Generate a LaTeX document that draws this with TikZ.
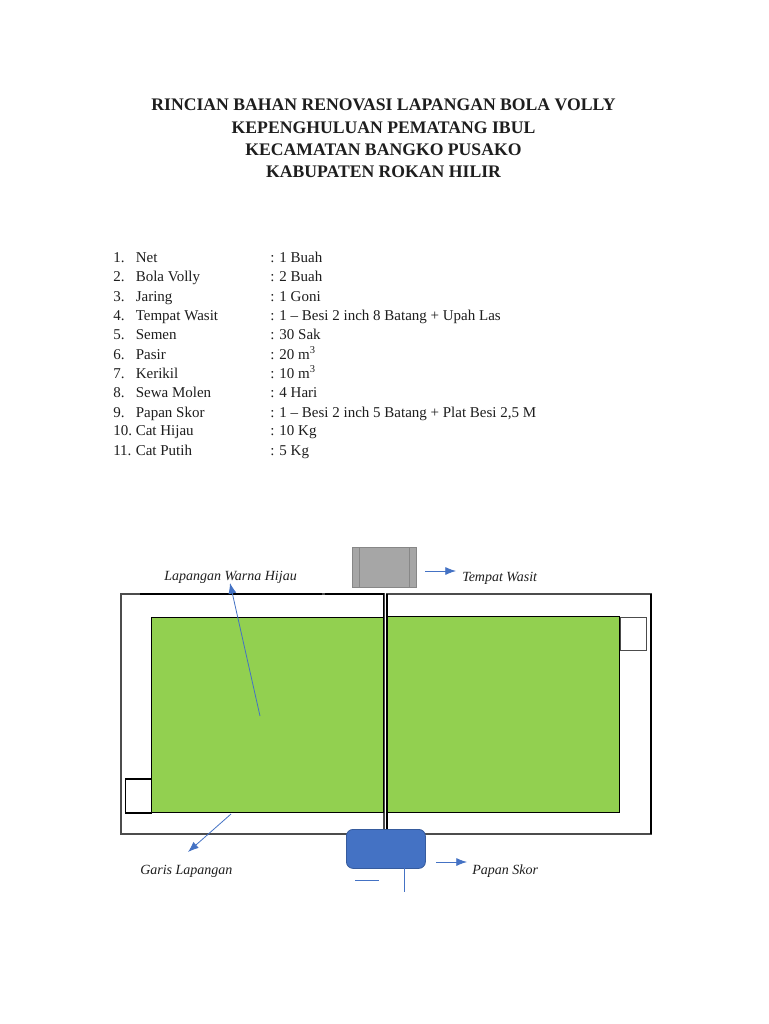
\documentclass[tikz,border=0pt]{standalone}
\usepackage{fontspec}
\setmainfont{Liberation Serif}
\definecolor{grass}{RGB}{146,208,80}
\definecolor{scoreblue}{RGB}{68,114,196}
\definecolor{chair}{RGB}{166,166,166}
\definecolor{chairedge}{RGB}{135,135,135}
\definecolor{arrowblue}{RGB}{68,114,196}
\definecolor{ink}{RGB}{30,30,30}
\usetikzlibrary{arrows.meta}
\tikzset{
  titletext/.style={font=\fontsize{13.25pt}{15pt}\selectfont\bfseries,anchor=base,inner sep=0pt,text=ink},
  bodytext/.style={font=\fontsize{11.25pt}{13pt}\selectfont,anchor=base west,inner sep=0pt,text=ink},
  labeltext/.style={font=\fontsize{10.5pt}{12pt}\selectfont\itshape,anchor=base west,inner sep=0pt,text=ink},
  courtline/.style={draw=black!70,line width=1.5pt},
  blackline/.style={draw=black,line width=1.4pt},
  fieldbox/.style={draw=black,line width=1.1pt,fill=grass,inner sep=0pt},
  pointer/.style={draw=arrowblue,line width=0.6pt,-{Latex[length=8pt,width=6pt]}},
  plainblue/.style={draw=arrowblue,line width=0.7pt}
}
\begin{document}
\begin{tikzpicture}[x=0.75pt,y=-0.75pt]
\useasboundingbox[fill=white] (0,0) rectangle (768,1024);
% title
\node[titletext] (t1) at (383.5,110) {RINCIAN BAHAN RENOVASI LAPANGAN BOLA VOLLY};
\node[titletext] (t2) at (383.5,133) {KEPENGHULUAN PEMATANG IBUL};
\node[titletext] (t3) at (383.5,155) {KECAMATAN BANGKO PUSAKO};
\node[titletext] (t4) at (383.5,177) {KABUPATEN ROKAN HILIR};
% list
\foreach \nm/\yy/\num/\item/\val in {
 a/262/1./Net/{: 1 Buah},
 b/281/2./Bola Volly/{: 2 Buah},
 c/301/3./Jaring/{: 1 Goni},
 d/320/4./Tempat Wasit/{: 1 – Besi 2 inch 8 Batang + Upah Las},
 e/339/5./Semen/{: 30 Sak},
 f/359/6./Pasir/{: 20 m\textsuperscript{3}},
 g/378/7./Kerikil/{: 10 m\textsuperscript{3}},
 h/397/8./Sewa Molen/{: 4 Hari},
 i/417/9./Papan Skor/{: 1 – Besi 2 inch 5 Batang + Plat Besi 2,5 M},
 j/435/10./Cat Hijau/{: 10 Kg},
 k/455/11./Cat Putih/{: 5 Kg}}{
  \node[bodytext] (n\nm) at (113,\yy) {\num};
  \node[bodytext] (l\nm) at (135.5,\yy) {\item};
  \node[bodytext] (v\nm) at (270,\yy) {\val};
}
% court outlines
\draw[courtline] (120.5,594) rectangle (383.5,834);
\draw[courtline] (387,593.5) rectangle (651,834);
\draw[blackline] (140,594) -- (322,594);
\draw[blackline] (325,594) -- (383.5,594) -- (383.5,617);
\draw[blackline] (387,593.5) -- (387,829);
\draw[blackline] (651,593.5) -- (651,834);
% green fields
\node[fieldbox,minimum width=232pt*0.75,minimum height=195pt*0.75,anchor=north west] (fieldL) at (151,617) {};
\node[fieldbox,minimum width=232pt*0.75,minimum height=196pt*0.75,anchor=north west] (fieldR) at (387,616) {};
% white corner boxes
\node[draw=black!70,line width=1.1pt,fill=white,minimum width=26pt*0.75,minimum height=33pt*0.75,inner sep=0pt,anchor=north west] (boxR) at (620,617) {};
\node[draw=black,line width=1.3pt,fill=white,minimum width=26pt*0.75,minimum height=34pt*0.75,inner sep=0pt,anchor=north west] (boxL) at (124.5,778) {};
% referee stand
\node[draw=chairedge,line width=0.9pt,fill=chair,minimum width=64pt*0.75,minimum height=40pt*0.75,inner sep=0pt,anchor=north west] (stand) at (352,547) {};
\draw[chairedge,line width=0.9pt] ([xshift=5.6pt]stand.north west) -- ([xshift=5.6pt]stand.south west);
\draw[chairedge,line width=0.9pt] ([xshift=-5.6pt]stand.north east) -- ([xshift=-5.6pt]stand.south east);
% score board
\node[draw=scoreblue!80!black,line width=0.6pt,fill=scoreblue,rounded corners=5pt,minimum width=79pt*0.75,minimum height=39pt*0.75,inner sep=0pt,anchor=north west] (board) at (346,829) {};
\coordinate (dashA) at (355,880);
\coordinate (dashB) at (379,880);
\draw[plainblue] (dashA) -- (dashB);
\coordinate (postTop) at (404,868);
\coordinate (postEnd) at (404,892);
\draw[plainblue] (postTop) -- (postEnd);
% labels
\node[labeltext] (lapangan) at (164,580) {Lapangan Warna Hijau};
\node[labeltext] (wasit) at (462,581) {Tempat Wasit};
\node[labeltext] (garis) at (140,874) {Garis Lapangan};
\node[labeltext] (skor) at (472,874) {Papan Skor};
% arrows
\coordinate (a1s) at (425,571); \coordinate (a1e) at (456,571);
\coordinate (a2s) at (436,862); \coordinate (a2e) at (467,862);
\coordinate (a3s) at (260,716); \coordinate (a3e) at (230,583);
\coordinate (a4s) at (231,814); \coordinate (a4e) at (188,852);
\draw[pointer] (a1s) -- (a1e);
\draw[pointer] (a2s) -- (a2e);
\draw[pointer] (a3s) -- (a3e);
\draw[pointer] (a4s) -- (a4e);
\end{tikzpicture}
\end{document}
